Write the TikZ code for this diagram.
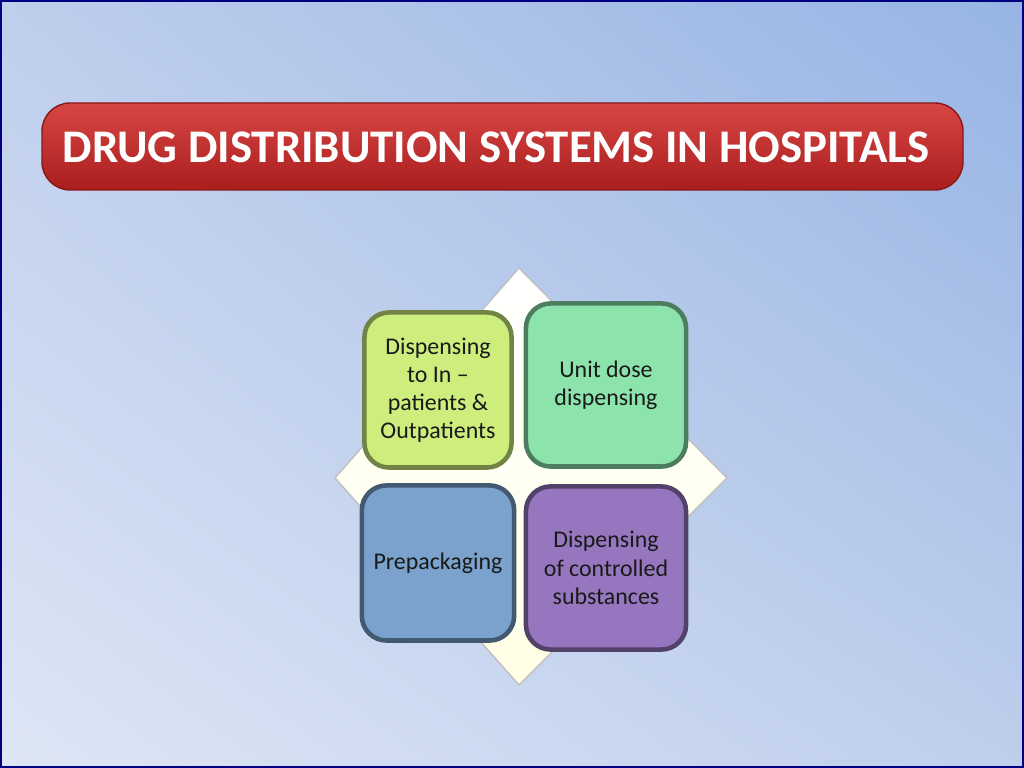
\documentclass[tikz,border=0pt]{standalone}
\usepackage{fontspec}
\setmainfont{Carlito}
\usetikzlibrary{positioning,shadings}
\definecolor{bgtr}{RGB}{150,180,228}
\definecolor{bgbl}{RGB}{222,230,245}
\definecolor{bgmid}{RGB}{190,206,236}
\definecolor{titletop}{RGB}{215,70,68}
\definecolor{titlebot}{RGB}{170,30,30}
\definecolor{tileyel}{RGB}{205,238,125}
\definecolor{tilegrn}{RGB}{140,228,172}
\definecolor{tileblu}{RGB}{122,162,205}
\definecolor{tilepur}{RGB}{150,118,190}
\tikzset{
  tile/.style={draw=#1!55!black, fill=#1, line width=1.3pt, rounded corners=7pt, minimum width=1.47cm, minimum height=1.55cm, align=center, font=\fontsize{6.8}{8}\selectfont, text=black!90},
}
\begin{document}
\begin{tikzpicture}[x=0.01cm,y=-0.01cm]
  \useasboundingbox (0,0) rectangle (1024,768);
  \shade[lower left=bgbl, upper right=bgtr, lower right=bgmid, upper left=bgmid] (0,0) rectangle (1024,768);
  \draw[blue!50!black, line width=1pt] (0.5,0.5) rectangle (1023.5,767.5);
  % title bar
  \shade[top color=titletop, bottom color=titlebot, draw=titlebot!80!black, rounded corners=8pt] (42,103) rectangle (963,190);
  \node[text=white, font=\bfseries\fontsize{13.3}{15}\selectfont, anchor=west, inner sep=0pt] (title) at (62,147) {DRUG DISTRIBUTION SYSTEMS IN HOSPITALS};
  % diamond
  \shade[top color=white, bottom color=yellow!10!white, draw=black!25] (519,268) -- (727,478) -- (519,685) -- (335,478) -- cycle;
  % tiles
  \node[tile=tileyel] (inpat) at (438,390) {Dispensing\\to In --\\patients \&\\Outpatients};
  \node[tile=tilegrn, minimum width=1.6cm, minimum height=1.63cm] (unit) at (606,385) {Unit dose\\dispensing};
  \node[tile=tileblu] (prepack) at (438,563) {Prepackaging};
  \node[tile=tilepur, minimum width=1.6cm, minimum height=1.63cm] (ctrl) at (606,568) {Dispensing\\of controlled\\substances};
\end{tikzpicture}
\end{document}
